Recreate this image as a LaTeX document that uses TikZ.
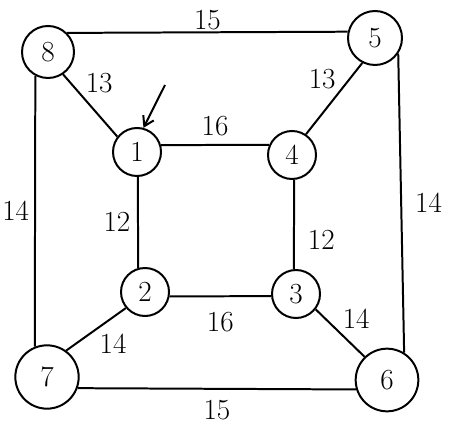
\documentclass[tikz,border=0pt]{standalone}
\usepackage{amsmath}
\usepackage{amssymb}
\usepackage{tikz}
\usetikzlibrary{arrows.meta, positioning}

\tikzset{
  vertex/.style={draw, circle, minimum size=1.44cm, inner sep=0pt, font=\fontsize{26}{30}\selectfont},
  weight/.style={inner sep=0pt, font=\fontsize{24}{28}\selectfont}
}

\begin{document}
\begin{tikzpicture}[line width=1.7pt]
          \useasboundingbox (0,0) rectangle (14.04,12.96);
          \node[vertex, minimum size=1.56cm] (8) at (1.44,11.40) {$8$};
          \node[vertex, minimum size=1.62cm] (5) at (11.25,11.82) {$5$};
          \node[vertex] (1) at (4.11,8.40) {$1$};
          \node[vertex] (4) at (8.76,8.31) {$4$};
          \node[vertex] (2) at (4.35,4.20) {$2$};
          \node[vertex] (3) at (8.88,4.14) {$3$};
          \node[vertex, minimum size=1.9cm] (7) at (1.41,1.65) {$7$};
          \node[vertex, minimum size=1.88cm] (6) at (11.61,1.56) {$6$};
          \coordinate (start) at (4.95,10.41);

          % outer square
          \draw (8.45) -- node[weight, midway, above=0.06cm] {$15$} (5.167);
          \draw (8.242) -- node[weight, midway, left=0.15cm] {$14$} (7.112);
          \draw (5.-34) -- node[weight, midway, right=0.39cm] {$14$} (6.58);
          \draw (7.-20) -- node[weight, midway, below=0.33cm] {$15$} (6.197);
          % inner square
          \draw (1.16) -- node[weight, midway, above=0.24cm] {$16$} (4.156);
          \draw (1.-88) -- node[weight, midway, left=0.2cm] {$12$} (2.106);
          \draw (4.-85) -- node[weight, pos=0.68, right=0.39cm] {$12$} (3.95);
          \draw (2.-10) -- node[weight, midway, below=0.45cm] {$16$} (3.185);
          % diagonals
          \draw (8.-56) -- node[weight, midway, xshift=0.27cm, yshift=0.66cm] {$13$} (1.142);
          \draw (5.243) -- node[weight, midway, xshift=-0.36cm, yshift=0.6cm] {$13$} (4.56);
          \draw (2.220) -- node[weight, midway, xshift=0.51cm, yshift=-0.45cm] {$14$} (7.54);
          \draw (3.-38) -- node[weight, midway, xshift=0.48cm, yshift=0.42cm] {$14$} (6.134);

          \draw[-{Straight Barb[length=8pt, width=10pt]}] (start) -- (1.75);
    \end{tikzpicture}
\end{document}
